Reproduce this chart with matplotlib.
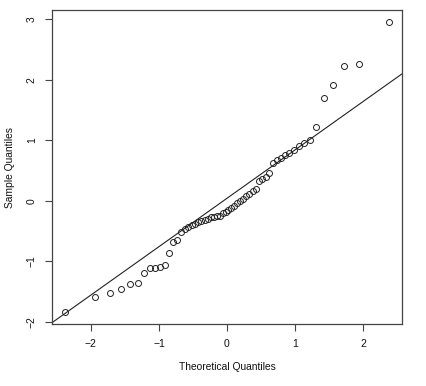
import matplotlib
matplotlib.use("Agg")
import matplotlib.pyplot as plt
from statistics import NormalDist
import numpy as np

# sorted sample values (n = 58)
sample = [
    -1.846, -1.587, -1.521, -1.455, -1.383, -1.360, -1.195, -1.119, -1.112, -1.102,
    -1.063, -0.864, -0.689, -0.650, -0.512, -0.463, -0.438, -0.410, -0.380, -0.360,
    -0.344, -0.322, -0.298, -0.278, -0.264, -0.259, -0.253, -0.207, -0.182, -0.157,
    -0.116, -0.083, -0.041, -0.012, 0.030, 0.071, 0.112, 0.154, 0.190, 0.331,
    0.364, 0.397, 0.455, 0.620, 0.678, 0.711, 0.752, 0.793, 0.835, 0.909,
    0.954, 1.000, 1.218, 1.691, 1.906, 2.231, 2.260, 2.959,
]
x_ticks = [-2, -1, 0, 1, 2]
y_ticks = [-2, -1, 0, 1, 2, 3]
x_title = "Theoretical Quantiles"
y_title = "Sample Quantiles"

# qqnorm: theoretical quantiles at ppoints(n)
n = len(sample)
nd = NormalDist()
theo = [nd.inv_cdf((i + 0.5) / n) for i in range(n)]

# qqline: through the 1st and 3rd quartiles
q1, q3 = np.quantile(sample, [0.25, 0.75])
t1, t3 = nd.inv_cdf(0.25), nd.inv_cdf(0.75)
slope = (q3 - q1) / (t3 - t1)
intercept = q1 - slope * t1

plt.rcParams["font.family"] = ["Liberation Sans", "DejaVu Sans"]

fig = plt.figure(figsize=(4.27, 3.86), dpi=100)
ax = fig.add_axes([52 / 427, 1 - 324 / 386, 350 / 427, 314 / 386])

ax.plot(theo, sample, linestyle="none", marker="o", markersize=4.3,
        markerfacecolor="none", markeredgecolor="#222222", markeredgewidth=0.7)
ax.axline((0, intercept), slope=slope, color="#222222", linewidth=0.8)

def r_range(v):
    lo, hi = min(v), max(v)
    d = (hi - lo) * 0.04
    return lo - d, hi + d

ax.set_xlim(*r_range(theo))
ax.set_ylim(*r_range(sample))

ax.set_xticks(x_ticks)
ax.set_xticklabels([str(t).replace("-", "\u2212") for t in x_ticks])
ax.set_yticks(y_ticks)
ax.set_yticklabels([str(t).replace("-", "\u2212") for t in y_ticks],
                   rotation=90, va="center")
ax.tick_params(direction="out", length=5, width=0.8, color="#444444",
               labelsize=7.5, pad=6, labelcolor="#111111")

for s in ax.spines.values():
    s.set_linewidth(0.9)
    s.set_color("#444444")

ax.set_xlabel(x_title, fontsize=7.4, color="#111111")
ax.set_ylabel(y_title, fontsize=7.4, color="#111111")
ax.xaxis.set_label_coords(0.5, -0.12)
ax.yaxis.set_label_coords(-0.107, 0.5)

fig.savefig("out.png", dpi=100)
